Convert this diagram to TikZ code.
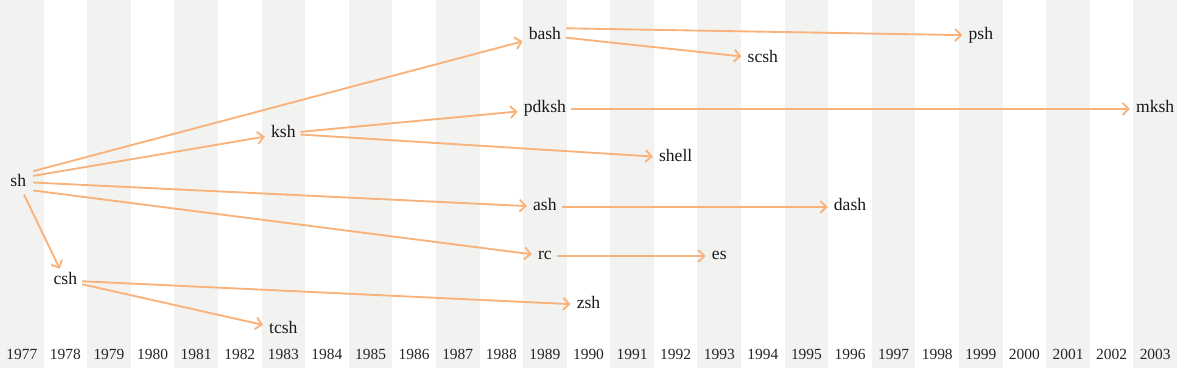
\documentclass[tikz,border=0pt]{standalone}
\usepackage{fontspec}
\setmainfont{Liberation Serif}
\usetikzlibrary{arrows.meta}

\definecolor{lineorange}{RGB}{248,178,122}
\definecolor{stripe}{RGB}{242,242,241}

\begin{document}
\begin{tikzpicture}[
  x=32.693pt, y=-18.375pt,
  prog/.style={text=black!90, font=\fontsize{13.2}{15}\selectfont,
    inner sep=2.5pt, text height=7pt, text depth=1.5pt},
  year/.style={text=black!85, font=\fontsize{11.6}{13}\selectfont},
  arr/.style={-{Straight Barb[length=4.5pt,width=9pt]}, lineorange,
    line width=1.4pt, shorten >=2pt, shorten <=1pt}
]
\useasboundingbox (-0.5,-1.347) rectangle (26.5,13.796);

% year stripes
\foreach \i in {0,2,...,26}
  \fill[stripe] (\i-0.5,-1.347) rectangle (\i+0.5,13.67);
\foreach \i in {0,...,26}{
  \pgfmathtruncatemacro{\yr}{1977+\i}
  \node[year] (y\yr) at (\i,13.1) {\yr};
}

% shells
\node[prog, minimum height=16pt, minimum width=20pt] (sh) at (-0.08,6.1) {sh};
\node[prog] (csh) at (1,10.1) {csh};
\node[prog] (tcsh) at (6,12.1) {tcsh};
\node[prog] (ksh) at (6,4.1) {ksh};
\node[prog] (bash) at (12,0.1) {bash};
\node[prog] (scsh) at (17,1.05) {scsh};
\node[prog] (psh) at (22,0.1) {psh};
\node[prog] (pdksh) at (12,3.1) {pdksh};
\node[prog] (mksh) at (26,3.1) {mksh};
\node[prog] (shell) at (15,5.1) {shell};
\node[prog] (ash) at (12,7.1) {ash};
\node[prog] (dash) at (19,7.1) {dash};
\node[prog] (rc) at (12,9.1) {rc};
\node[prog] (es) at (16,9.1) {es};
\node[prog] (zsh) at (13,11.1) {zsh};

\draw[arr] (sh.north east) -- (bash);
\draw[arr] (sh.25) -- (ksh);
\draw[arr] (sh.east) -- (ash);
\draw[arr] (sh.-30) -- (rc);
\draw[arr] (sh.-65) -- (csh);
\draw[arr] (csh) -- (zsh);
\draw[arr] (csh) -- (tcsh);
\draw[arr] (ksh) -- (pdksh);
\draw[arr] (ksh) -- (shell);
\draw[arr] (bash.20) -- (psh);
\draw[arr] (bash) -- (scsh);
\draw[arr] (pdksh) -- (mksh);
\draw[arr] (ash) -- (dash);
\draw[arr] (rc) -- (es);
\end{tikzpicture}
\end{document}
